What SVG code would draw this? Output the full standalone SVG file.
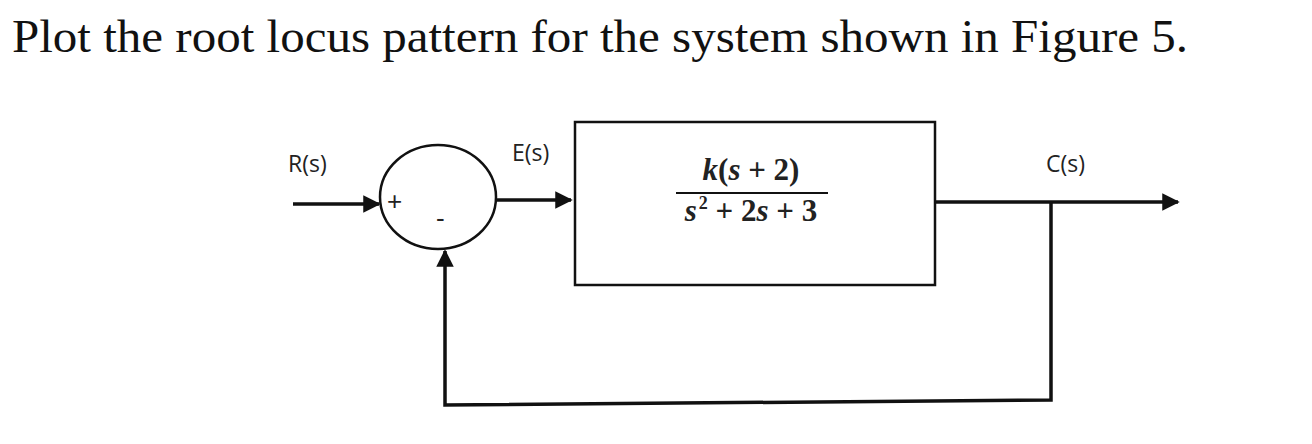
<svg xmlns="http://www.w3.org/2000/svg" width="1312" height="444" viewBox="0 0 1312 444">
<style>
.title{font-family:"Liberation Serif","Times New Roman",serif;font-size:46px;fill:#111}
.lbl{font-family:"Open Sans","Liberation Sans",sans-serif;font-size:23px;fill:#222}
.math{font-family:"Liberation Serif","Times New Roman",serif;font-size:31px;font-weight:bold;fill:#222}
.sign{font-family:"Liberation Sans",sans-serif;font-size:26px;fill:#222}
.wire{stroke:#111;stroke-width:3.5;fill:none}
.node{stroke:#111;stroke-width:2.5;fill:none}
</style>
<defs>
<marker id="ah" viewBox="0 0 10 10" refX="9" refY="5" markerWidth="5" markerHeight="5" markerUnits="strokeWidth" orient="auto">
<path d="M0,0 L10,5 L0,10 z" fill="#111"/>
</marker>
</defs>
<rect width="1312" height="444" fill="#fff"/>
<text class="title" x="12" y="52" textLength="1176" lengthAdjust="spacingAndGlyphs">Plot the root locus pattern for the system shown in Figure 5.</text>
<g id="sum">
<ellipse class="node" cx="438" cy="197" rx="58" ry="52"/>
<text class="sign" x="387" y="210">+</text>
<text class="sign" x="436" y="227">-</text>
</g>
<g id="plant">
<rect class="node" x="575" y="122" width="360" height="163"/>
<text class="math" x="751" y="180" text-anchor="middle" font-style="italic">k<tspan font-style="normal">(</tspan>s<tspan font-style="normal"> + 2)</tspan></text>
<line x1="676" y1="193" x2="828" y2="193" stroke="#111" stroke-width="2"/>
<text class="math" x="751" y="221" text-anchor="middle"><tspan font-style="italic">s</tspan><tspan font-size="18" dx="2" dy="-12">2</tspan><tspan dy="12"> + 2</tspan><tspan font-style="italic">s</tspan> + 3</text>
</g>
<g id="labels">
<text class="lbl" x="288" y="172">R(s)</text>
<text class="lbl" x="512" y="161">E(s)</text>
<text class="lbl" x="1046" y="172">C(s)</text>
</g>
<g id="connectors">
<line class="wire" x1="293" y1="204" x2="379" y2="204" marker-end="url(#ah)"/>
<line class="wire" x1="497" y1="200" x2="571" y2="200" marker-end="url(#ah)"/>
<line class="wire" x1="935" y1="202" x2="1178" y2="202" marker-end="url(#ah)"/>
<polyline class="wire" points="1051,202 1051,400 445,405 445,251" marker-end="url(#ah)"/>
</g>
</svg>
